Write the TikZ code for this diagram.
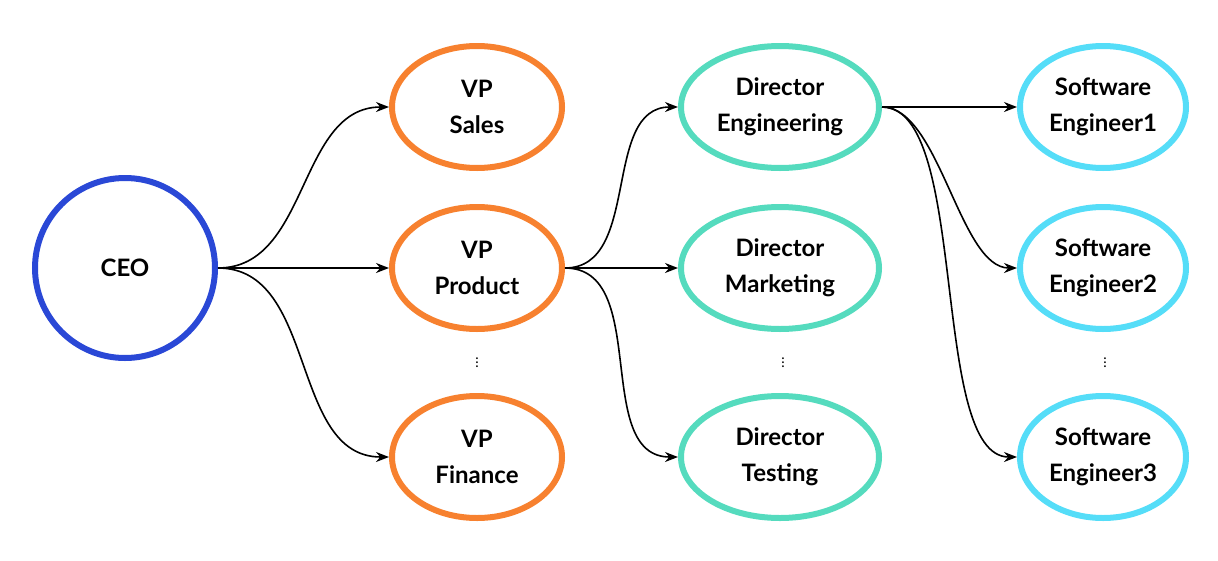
\documentclass[tikz,border=0pt]{standalone}
\usepackage{fontspec}
\setmainfont{Lato}
\usetikzlibrary{arrows.meta,shapes.geometric}
\definecolor{ceoc}{HTML}{2A48D6}
\definecolor{vpc}{HTML}{F7812F}
\definecolor{dirc}{HTML}{55DBBE}
\definecolor{swc}{HTML}{55DDF8}
\begin{document}
\begin{tikzpicture}[x=1pt,y=-1pt,
 box/.style={ellipse,line width=6pt,draw,align=center,font=\fontsize{24}{36}\selectfont\bfseries,inner sep=0pt},
 vp/.style={box,draw=vpc,minimum width=170,minimum height=122},
 dir/.style={box,draw=dirc,minimum width=198,minimum height=122},
 sw/.style={box,draw=swc,minimum width=166,minimum height=122},
 dots/.style={font=\Large},
 arr/.style={-{Stealth[length=13pt,width=10pt]},line width=1.6pt,out=0,in=180}]
\useasboundingbox (0,0) rectangle (1218,560);
\node[circle,draw=ceoc,line width=6pt,minimum size=180,font=\fontsize{24}{36}\selectfont\bfseries] (ceo) at (125,268) {CEO};
\node[vp] (vs) at (477,107) {VP\\Sales};
\node[vp] (vpp) at (477,268) {VP\\Product};
\node[vp] (vf) at (477,457) {VP\\Finance};
\node[dir] (de) at (780,107) {Director\\Engineering};
\node[dir] (dm) at (780,268) {Director\\Marketing};
\node[dir] (dt) at (780,457) {Director\\Testing};
\node[sw] (s1) at (1103,107) {Software\\Engineer1};
\node[sw] (s2) at (1103,268) {Software\\Engineer2};
\node[sw] (s3) at (1103,457) {Software\\Engineer3};
\node[dots] (d1) at (477,360) {$\vdots$};
\node[dots] (d2) at (783,360) {$\vdots$};
\node[dots] (d3) at (1105,360) {$\vdots$};
\draw[arr] (ceo.east) to (vs.west);
\draw[arr] (ceo.east) to (vpp.west);
\draw[arr] (ceo.east) to (vf.west);
\draw[arr] (vpp.east) to (de.west);
\draw[arr] (vpp.east) to (dm.west);
\draw[arr] (vpp.east) to (dt.west);
\draw[arr] (de.east) to (s1.west);
\draw[arr,looseness=0.7] (de.east) to (s2.west);
\draw[arr,looseness=0.6] (de.east) to (s3.west);
\end{tikzpicture}
\end{document}
